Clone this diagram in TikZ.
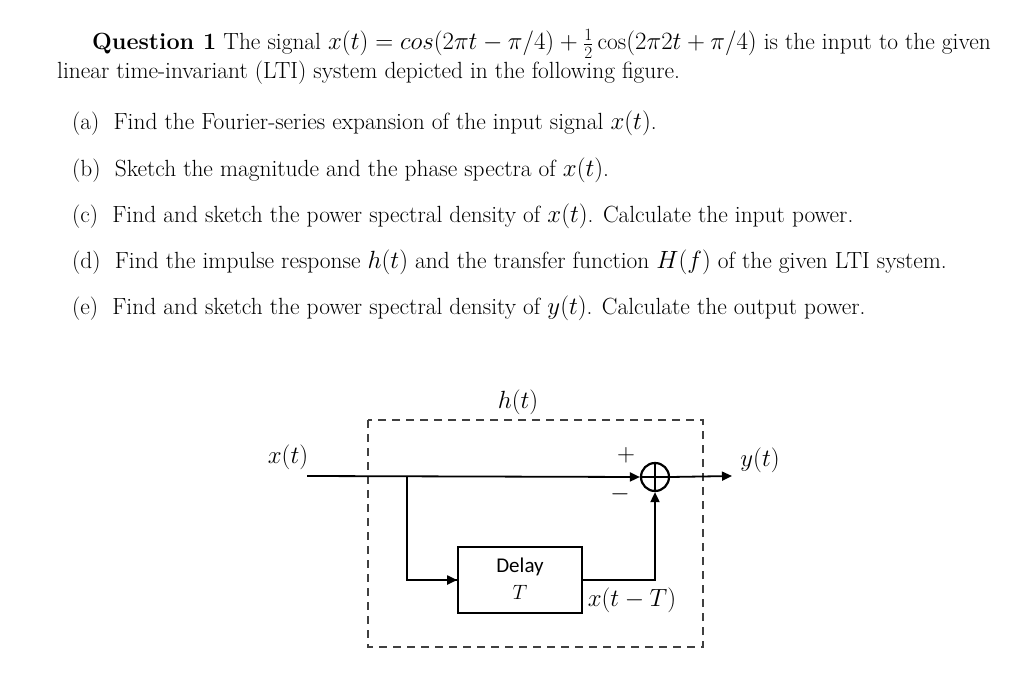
\documentclass[tikz,border=0pt]{standalone}
\usepackage{fontspec}
\newfontfamily\carl{Carlito}
\usetikzlibrary{arrows.meta}
\begin{document}
\begin{tikzpicture}[x=1pt,y=-1pt,
  txt/.style={anchor=base west,inner sep=0pt,font=\fontsize{23.4}{28}\selectfont},
  lbl/.style={inner sep=0pt,font=\fontsize{27}{30}\selectfont},
  ln/.style={line width=1.8pt},
  arr/.style={ln,-{Triangle[length=10pt,width=9pt]}}]
\useasboundingbox (0,0) rectangle (1024,687);
\node[txt] (l1) at (92,50) {\textbf{Question 1} The signal $x(t)=cos(2\pi t-\pi/4)+\frac{1}{2}\cos(2\pi 2t+\pi/4)$ is the input to the given};
\node[txt] (l2) at (57,79) {linear time-invariant (LTI) system depicted in the following figure.};
\node[txt] (a) at (72,130) {(a)\ \ Find the Fourier-series expansion of the input signal $x(t)$.};
\node[txt] (b) at (72,176) {(b)\ \ Sketch the magnitude and the phase spectra of $x(t)$.};
\node[txt] (c) at (72,222) {(c)\ \ Find and sketch the power spectral density of $x(t)$. Calculate the input power.};
\node[txt] (d) at (72,268) {(d)\ \ Find the impulse response $h(t)$ and the transfer function $H(f)$ of the given LTI system.};
\node[txt] (e) at (72,314) {(e)\ \ Find and sketch the power spectral density of $y(t)$. Calculate the output power.};
% diagram
\draw[dashed,dash pattern=on 8pt off 6pt,line width=1.6pt,draw=black!75] (368,420) rectangle (703,647);
\node[draw,line width=1.6pt,minimum width=124pt,minimum height=66pt,inner sep=0pt] (dl) at (520,580) {};
\node[font=\carl\fontsize{21}{24}\selectfont,align=center,inner sep=0pt] (dt) at (520,579) {Delay\\[3pt]$T$};
\node[circle,draw,line width=2.2pt,minimum size=28pt,inner sep=0pt] (s) at (655,477) {};
\draw[line width=2pt] (s.north)--(s.south) (s.west)--(s.east);
\coordinate (in) at (307,476);
\coordinate (br) at (407,476);
\coordinate (out) at (732,476);
\draw[arr] (in)--(s.west);
\draw[ln] (br)|-(dl.west) coordinate[pos=0.5] (bc);
\draw[arr] (bc)--(dl.west);
\draw[arr] (dl.east)-|(s.south);
\draw[arr] (s.east)--(out);
\node[lbl] (xt) at (288,457) {$x(t)$};
\node[lbl] (ht) at (518,402) {$h(t)$};
\node[lbl] (yt) at (760,460) {$y(t)$};
\node[lbl] (xtT) at (632,600) {$x(t-T)$};
\node[lbl] (p) at (626,455) {$+$};
\node[lbl] (m) at (620,494) {$-$};
\end{tikzpicture}
\end{document}
